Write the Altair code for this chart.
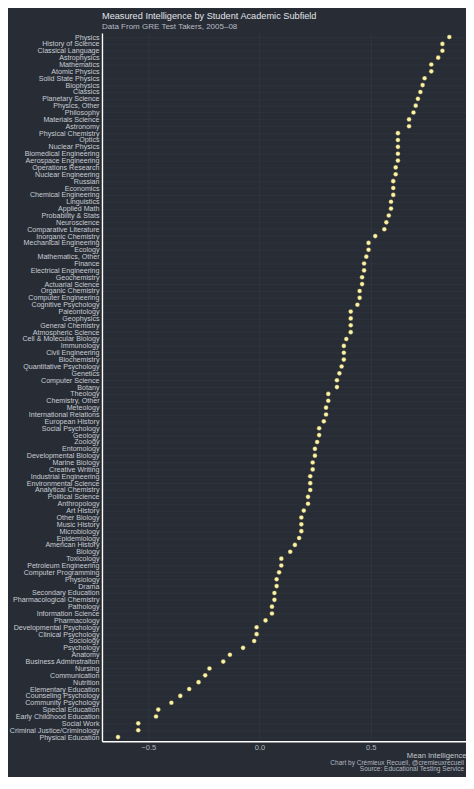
import altair as alt
import pandas as pd

fields = [
    "Physics", "History of Science", "Classical Language", "Astrophysics", "Mathematics",
    "Atomic Physics", "Solid State Physics", "Biophysics", "Classics", "Planetary Science",
    "Physics, Other", "Philosophy", "Materials Science", "Astronomy", "Physical Chemistry",
    "Optics", "Nuclear Physics", "Biomedical Engineering", "Aerospace Engineering", "Operations Research",
    "Nuclear Engineering", "Russian", "Economics", "Chemical Engineering", "Linguistics",
    "Applied Math", "Probability & Stats", "Neuroscience", "Comparative Literature", "Inorganic Chemistry",
    "Mechanical Engineering", "Ecology", "Mathematics, Other", "Finance", "Electrical Engineering",
    "Geochemistry", "Actuarial Science", "Organic Chemistry", "Computer Engineering", "Cognitive Psychology",
    "Paleontology", "Geophysics", "General Chemistry", "Atmospheric Science", "Cell & Molecular Biology",
    "Immunology", "Civil Engineering", "Biochemistry", "Quantitative Psychology", "Genetics",
    "Computer Science", "Botany", "Theology", "Chemistry, Other", "Meteology",
    "International Relations", "European History", "Social Psychology", "Geology", "Zoology",
    "Entomology", "Developmental Biology", "Marine Biology", "Creative Writing", "Industrial Engineering",
    "Environmental Science", "Analytical Chemistry", "Political Science", "Anthropology", "Art History",
    "Other Biology", "Music History", "Microbiology", "Epidemiology", "American History",
    "Biology", "Toxicology", "Petroleum Engineering", "Computer Programming", "Physiology",
    "Drama", "Secondary Education", "Pharmacological Chemistry", "Pathology", "Information Science",
    "Pharmacology", "Developmental Psychology", "Clinical Psychology", "Sociology", "Psychology",
    "Anatomy", "Business Adminstraiton", "Nursing", "Communication", "Nutrition",
    "Elementary Education", "Counseling Psychology", "Community Psychology", "Special Education", "Early Childhood Education",
    "Social Work", "Criminal Justice/Criminology", "Physical Education",
]

mean_iq = [
    0.853, 0.822, 0.822, 0.803, 0.772,
    0.772, 0.742, 0.733, 0.723, 0.712,
    0.702, 0.692, 0.672, 0.672, 0.622,
    0.622, 0.622, 0.622, 0.622, 0.612,
    0.612, 0.601, 0.601, 0.601, 0.591,
    0.591, 0.581, 0.570, 0.561, 0.520,
    0.490, 0.490, 0.480, 0.470, 0.470,
    0.461, 0.461, 0.450, 0.450, 0.440,
    0.410, 0.410, 0.410, 0.410, 0.390,
    0.379, 0.379, 0.379, 0.369, 0.359,
    0.348, 0.348, 0.309, 0.309, 0.299,
    0.299, 0.289, 0.268, 0.268, 0.259,
    0.249, 0.249, 0.239, 0.239, 0.228,
    0.228, 0.228, 0.218, 0.218, 0.199,
    0.188, 0.188, 0.188, 0.178, 0.159,
    0.138, 0.098, 0.098, 0.088, 0.077,
    0.077, 0.067, 0.067, 0.056, 0.056,
    0.027, -0.013, -0.013, -0.024, -0.074,
    -0.133, -0.163, -0.225, -0.244, -0.274,
    -0.316, -0.356, -0.396, -0.455, -0.465,
    -0.545, -0.545, -0.636,
]

x_ticks = [-0.5, 0.0, 0.5]
title_text = "Measured Intelligence by Student Academic Subfield"
subtitle_text = "Data From GRE Test Takers, 2005–08"
x_title = "Mean Intelligence"
caption_lines = ["Chart by Crémieux Recueil, @cremieuxrecueil", "Source: Educational Testing Service"]

FONT = "Liberation Sans"
BG = "#272c35"
GRID = "#323843"

df = pd.DataFrame({"field": fields, "value": mean_iq})

W, H = 368, 716

points = alt.Chart(df).mark_point(
    filled=True, size=22, color="#fdf2a4", stroke="#3a3a2a", strokeWidth=0.4, opacity=1
).encode(
    x=alt.X(
        "value:Q",
        scale=alt.Scale(domain=[-0.708, 0.928], nice=False, zero=False),
        axis=alt.Axis(
            values=x_ticks, format=".1f", title=x_title, titleAnchor="end",
            titleAlign="right", titleFontSize=7.7, titleFontWeight="normal",
            titleColor="#c3c7ce", titlePadding=1,
            labelFontSize=7.6, labelColor="#b4b8c0", labelPadding=2,
            ticks=False, domainColor="#ffffff", domainWidth=1.4,
            grid=True, gridColor=GRID, gridWidth=0.8,
        ),
    ),
    y=alt.Y(
        "field:N",
        sort=fields,
        scale=alt.Scale(padding=0.6),
        axis=alt.Axis(
            title=None, labelFontSize=7.2, labelColor="#c9cdd4", labelPadding=3,
            ticks=False, domainColor="#ffffff", domainWidth=1.4,
            grid=True, gridColor=GRID, gridWidth=0.6, labelOverlap=False,
        ),
    ),
)

caption_layers = []
for i, line in enumerate(caption_lines):
    caption_layers.append(
        alt.Chart(pd.DataFrame({"line": [line]})).mark_text(
            align="right", baseline="middle", fontSize=6.6, color="#b4b8c0", font=FONT
        ).encode(
            text="line:N",
            x=alt.value(W - 2),
            y=alt.value(H + 22 + i * 6.4),
        )
    )

chart = alt.layer(points, *caption_layers).properties(
    width=W,
    height=H,
    background=BG,
    padding={"left": 95, "top": 21, "right": 0, "bottom": 32},
    autosize=alt.AutoSizeParams(type="none"),
    title=alt.TitleParams(
        text=title_text, subtitle=subtitle_text, anchor="start", frame="group",
        fontSize=9.3, fontWeight="normal", color="#e2e4e8",
        subtitleFontSize=8.1, subtitleColor="#b8bcc4", subtitlePadding=1.5,
        offset=2, font=FONT, subtitleFont=FONT,
    ),
).configure_view(stroke=None).configure_axis(
    labelFont=FONT, titleFont=FONT
)

chart.save("out.html", embed_options={"renderer": "svg", "actions": False})
